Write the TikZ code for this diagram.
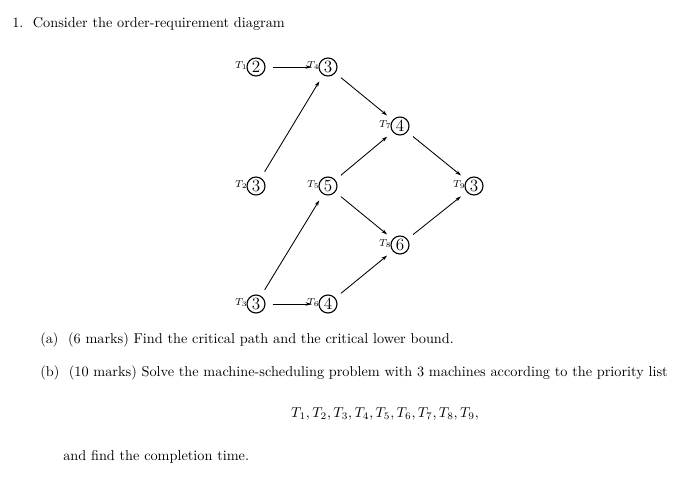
\documentclass[tikz,border=0pt]{standalone}
\usetikzlibrary{arrows.meta}
\begin{document}
\begin{tikzpicture}[x=0.7pt,y=-0.7pt,
  job/.style={circle,draw,thick,inner sep=0pt,minimum size=12.6pt,font=\large},
  lab/.style={font=\scriptsize,inner sep=0.5pt},
  edge/.style={-{Stealth[length=4pt,width=2.5pt]},semithick,shorten <=5pt,shorten >=5pt},
  txt/.style={anchor=west,inner sep=0pt}]
\useasboundingbox (0,0) rectangle (689,489);
\node[txt] (h) at (12,24) {1.\ \ Consider the order-requirement diagram};
\foreach \n/\x/\y/\d in {1/256/67/2,4/328/67/3,7/400/126/4,2/256/186/3,5/328/186/5,9/474/186/3,8/400/245/6,3/256/304/3,6/328/304/4}{
  \node[job] (t\n) at (\x,\y) {\d};
  \node[lab,anchor=north east] (l\n) at ([xshift=-0.5pt]t\n.north west) {$T_{\n}$};
}
\draw[edge] (t1) -- (t4);
\draw[edge] (t2) -- (t4);
\draw[edge] (t4) -- (t7);
\draw[edge] (t5) -- (t7);
\draw[edge] (t7) -- (t9);
\draw[edge] (t5) -- (t8);
\draw[edge] (t3) -- (t5);
\draw[edge] (t3) -- (t6);
\draw[edge] (t6) -- (t8);
\draw[edge] (t8) -- (t9);
\node[txt] (a) at (40,340) {(a)\ \ (6 marks) Find the critical path and the critical lower bound.};
\node[txt] (b) at (40,373) {(b)\ \ (10 marks) Solve the machine-scheduling problem with 3 machines according to the priority list};
\node (p) at (385,414) {$T_1, T_2, T_3, T_4, T_5, T_6, T_7, T_8, T_9,$};
\node[txt] (c) at (63,457) {and find the completion time.};
\end{tikzpicture}
\end{document}
